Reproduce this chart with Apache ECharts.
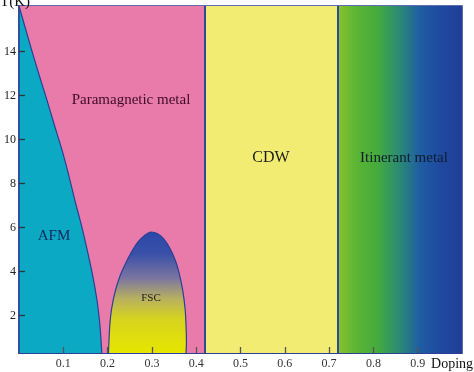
<!DOCTYPE html>
<html><head><meta charset="utf-8">
<script src="https://cdn.jsdelivr.net/npm/echarts@6/dist/echarts.min.js"></script>
<style>html,body{margin:0;padding:0;background:#fff}#c{width:474px;height:372px}</style>
</head><body><div id="c"></div>
<script>
// ---- data ----
var xTicks = [0.1, 0.2, 0.3, 0.4, 0.5, 0.6, 0.7, 0.8, 0.9];
var yTicks = [2, 4, 6, 8, 10, 12, 14];
var xRange = [0, 1];
var yRange = [0.3, 16.07];
// AFM phase boundary (doping, T)
var afmCurve = [[0, 16.07], [0.0285, 14.07], [0.046, 12.9], [0.063, 11.8], [0.080, 10.65], [0.097, 9.53], [0.112, 8.4], [0.126, 7.25], [0.141, 6.1], [0.154, 4.98], [0.166, 3.85], [0.176, 2.71], [0.181, 1.9], [0.184, 1.21], [0.187, 0.3]];
// FSC dome (doping, T)
var fscDome = [[0.202, 0.3], [0.203, 0.8], [0.205, 1.57], [0.209, 2.3], [0.217, 3.09], [0.228, 3.8], [0.240, 4.35], [0.253, 4.85], [0.267, 5.3], [0.282, 5.62], [0.298, 5.8], [0.313, 5.72], [0.328, 5.45], [0.342, 5.0], [0.354, 4.45], [0.363, 3.8], [0.370, 3.09], [0.375, 2.3], [0.377, 1.57], [0.378, 0.8], [0.377, 0.3]];
// phase region boundaries on doping axis
var boundaries = [0.42, 0.718];
// rectangular regions [from, to, name]
var regions = [[0, 0.42, 'Paramagnetic metal'], [0.42, 0.718, 'CDW'], [0.718, 1, 'Itinerant metal']];

var chart = echarts.init(document.getElementById('c'), null, {renderer: 'canvas'});
var serif = 'Liberation Serif, Times New Roman, serif';
var regionFills = [
  '#E97BAA',
  '#F2EC72',
  new echarts.graphic.LinearGradient(0, 0, 1, 0, [
    {offset: 0, color: '#8cc22c'},
    {offset: 0.15, color: '#5db533'},
    {offset: 0.32, color: '#45ab3c'},
    {offset: 0.5, color: '#2a8a74'},
    {offset: 0.66, color: '#1f5ea2'},
    {offset: 0.82, color: '#1e4aa0'},
    {offset: 1, color: '#1f3e98'}
  ])
];
chart.setOption({
  animation: false,
  grid: {left: 19, right: 12, top: 6, bottom: 19, containLabel: false, outerBoundsMode: 'none', show: true, borderColor: '#2b3f95', borderWidth: 1.5, backgroundColor: 'transparent'},
  xAxis: {
    type: 'value', min: xRange[0], max: xRange[1],
    name: 'Doping', nameLocation: 'end', nameGap: -33,
    nameTextStyle: {fontFamily: serif, fontSize: 14, color: '#111', verticalAlign: 'top', padding: [4, 0, 0, 0]},
    splitLine: {show: false},
    axisLine: {show: true, lineStyle: {color: '#2b3f95', width: 1}},
    axisTick: {show: true, inside: true, length: 6, customValues: xTicks, lineStyle: {color: '#555', width: 1.3}},
    axisLabel: {customValues: xTicks, fontFamily: serif, fontSize: 12, color: '#333', margin: 5, formatter: function (v) { return v.toFixed(1); }},
    z: 10
  },
  yAxis: {
    type: 'value', min: yRange[0], max: yRange[1],
    splitLine: {show: false},
    axisLine: {show: true, lineStyle: {color: '#2b3f95', width: 1.5}},
    axisTick: {show: true, inside: true, length: 6, customValues: yTicks, lineStyle: {color: '#333', width: 1.3}},
    axisLabel: {customValues: yTicks, fontFamily: serif, fontSize: 12, color: '#222', margin: 3},
    z: 10
  },
  graphic: [
    {type: 'text', left: 0, top: -5, style: {text: 'T(K)', font: '15px ' + serif, fill: '#111'}, z: 20},
    {type: 'text', x: 131, y: 100, style: {text: regions[0][2], font: '15px ' + serif, fill: '#3e0c28', align: 'center', verticalAlign: 'middle'}, z: 20},
    {type: 'text', x: 271, y: 158, style: {text: regions[1][2], font: '16px ' + serif, fill: '#1a1a1a', align: 'center', verticalAlign: 'middle'}, z: 20},
    {type: 'text', x: 404, y: 158, style: {text: regions[2][2], font: '15px ' + serif, fill: '#0f1c30', align: 'center', verticalAlign: 'middle'}, z: 20},
    {type: 'text', x: 54, y: 236, style: {text: 'AFM', font: '15px ' + serif, fill: '#12285e', align: 'center', verticalAlign: 'middle'}, z: 20},
    {type: 'text', x: 151, y: 298, style: {text: 'FSC', font: '11px ' + serif, fill: '#1a1a1a', align: 'center', verticalAlign: 'middle'}, z: 20}
  ],
  series: [
    {
      type: 'custom', z: 1, silent: true,
      data: regions.map(function (r, i) { return [r[0], r[1], i]; }),
      renderItem: function (params, api) {
        var p0 = api.coord([api.value(0), yRange[1]]);
        var p1 = api.coord([api.value(1), yRange[0]]);
        return {type: 'rect', shape: {x: p0[0], y: p0[1], width: p1[0] - p0[0], height: p1[1] - p0[1]},
          style: {fill: regionFills[api.value(2)]}};
      }
    },
    {
      type: 'line', z: 2, data: afmCurve, showSymbol: false, smooth: 0.2, silent: true,
      lineStyle: {color: '#2a3f95', width: 1.2},
      areaStyle: {color: '#0BA9C3', opacity: 1}
    },
    {
      type: 'line', z: 3, data: fscDome, showSymbol: false, smooth: 0.25, silent: true,
      lineStyle: {color: '#2a3f95', width: 1.2},
      areaStyle: {opacity: 1, color: new echarts.graphic.LinearGradient(0, 0, 0, 1, [
        {offset: 0, color: '#2b48a8'},
        {offset: 0.18, color: '#3a50a8'},
        {offset: 0.38, color: '#7a75a0'},
        {offset: 0.55, color: '#b8b060'},
        {offset: 0.72, color: '#d6d41e'},
        {offset: 1, color: '#e6e600'}
      ])},
      markLine: {
        silent: true, symbol: 'none', label: {show: false},
        lineStyle: {color: '#2b4a9a', width: 2, type: 'solid'},
        data: boundaries.map(function (b) { return {xAxis: b}; })
      }
    }
  ]
});
</script></body></html>
